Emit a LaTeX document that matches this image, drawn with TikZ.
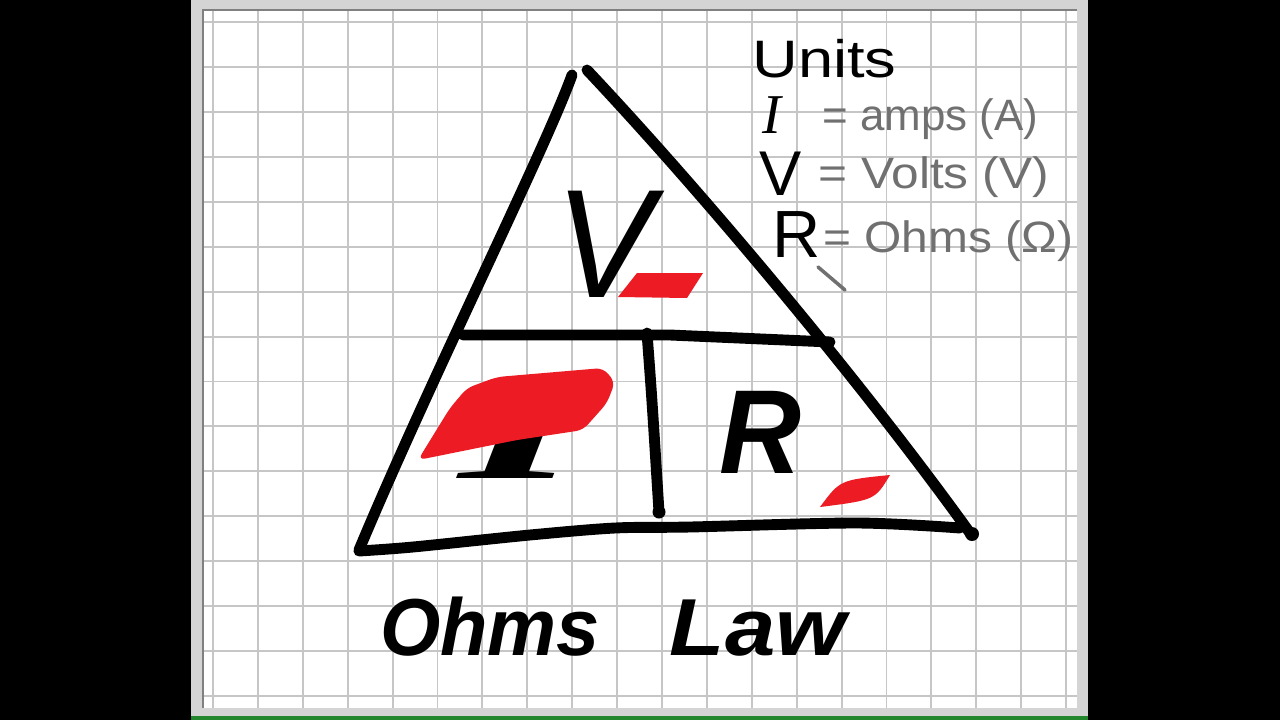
\documentclass[tikz,border=0pt]{standalone}
\usepackage{fontspec}
\setmainfont{Liberation Sans}
\newfontfamily\serifhand{Liberation Serif}
\newcommand{\inksize}[1]{\fontsize{#1}{#1}\selectfont}
\definecolor{inkred}{RGB}{237,28,36}
\definecolor{pencil}{RGB}{112,112,112}
\definecolor{panelgray}{RGB}{212,212,212}
\definecolor{gridgray}{RGB}{198,198,198}
\definecolor{stripgreen}{RGB}{35,135,45}

\begin{document}
\begin{tikzpicture}[x=0.02cm,y=-0.02cm,
		ink/.style={line width=6.2pt, line cap=round, line join=round},
		gridline/.style={gridgray, line width=1.1pt},
		letter/.style={inner sep=0pt, anchor=base, transform shape},
		unitword/.style={inner sep=0pt, anchor=base west, pencil, font=\inksize{25}, transform shape}]
		% screen and page
		\fill[black] (0,0) rectangle (1280,720);
		\fill[panelgray] (191,0) rectangle (1088,720);
		\fill[white] (203,10) rectangle (1077,708);
		\foreach \gx in {0,...,19}
			\draw[gridline] ({213+44.9*\gx},10) -- ({213+44.9*\gx},708);
		\foreach \gy in {0,...,15}
			\draw[gridline] (203,{22.3+44.9*\gy}) -- (1077,{22.3+44.9*\gy});
		\draw[gray, line width=1.2pt] (203,708) -- (203,10) -- (1077,10);
		\draw[stripgreen, line width=2pt] (191,718) -- (1088,718);
		% triangle
		\draw[ink] (572,75) .. controls (545,150) and (430,380) .. (359,550);
		\draw[ink] (587,70) .. controls (700,190) and (860,380) .. (970,533);
		\draw[ink] plot[smooth] coordinates {(359,551) (413,547) (530,535) (615,528) (690,527) (857,523) (960,528)};
		\fill (972,534) circle (7);
		\draw[ink] (463,335) -- (670,335) -- (830,342);
		\draw[ink] (647,333) .. controls (652,400) .. (659,512);
		\fill (659,512) circle (6.5);
		% letters
		\node[inner sep=0pt, anchor=base west, transform shape, font=\inksize{88}\itshape, xscale=0.95] (volt) at (555,297) {V};
		\node[letter, font=\inksize{80}\serifhand\bfseries\itshape, xscale=2.2] (amp) at (520,478) {I};
		\node[letter, font=\inksize{68}\bfseries\itshape, xscale=0.95] (ohm) at (760,473) {R};
		% red marks
		\fill[inkred] (618,297) -- (637,273) -- (703,273) -- (687,298) -- cycle;
		\fill[inkred, rounded corners=4pt] (418,460) -- (450,408) -- (467,388) -- (497,377) -- (603,368)
			-- (615,382) -- (607,403) -- (583,430) -- (517,440) -- cycle;
		\fill[inkred] (820,507) .. controls (840,480) .. (890,475) .. controls (875,500) .. (820,507);
		% title
		\node[letter, font=\inksize{46}\bfseries\itshape, xscale=0.96] (ohms) at (490,655) {Ohms};
		\node[letter, font=\inksize{46}\bfseries\itshape, xscale=1.12] (law) at (758,655) {Law};
		% units
		\node[inner sep=0pt, anchor=base west, font=\inksize{30}, xscale=1.2, transform shape] (units) at (752,77) {Units};
		\node[letter, font=\inksize{32}\serifhand\itshape] (unitI) at (772,133) {I};
		\node[unitword] (ampsword) at (822,130) {= amps (A)};
		\node[letter, font=\inksize{36}] (unitV) at (781,195) {V};
		\node[unitword, xscale=1.13] (voltsword) at (818,188) {= Volts (V)};
		\node[letter, font=\inksize{38}] (unitR) at (797,257) {R};
		\node[unitword, xscale=1.09] (ohmsword) at (823,252) {= Ohms (Ω)};
		\draw[pencil, line width=2pt, line cap=round] (818,267) -- (845,290);
	\end{tikzpicture}
\end{document}
